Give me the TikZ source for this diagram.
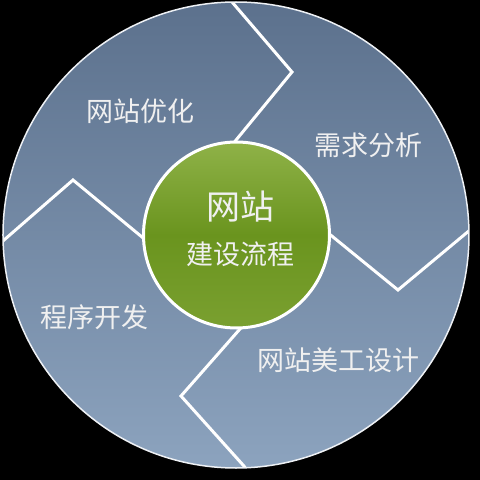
\documentclass[tikz,border=0pt]{standalone}
\usepackage{fontspec}
\newfontfamily\cjk{Noto Sans CJK SC}
\usetikzlibrary{positioning}
\definecolor{ringtop}{RGB}{92,113,141}
\definecolor{ringbot}{RGB}{140,163,190}
\definecolor{hubtop}{RGB}{143,178,72}
\definecolor{hubmid}{RGB}{106,148,30}
\definecolor{hubbot}{RGB}{122,160,48}

\begin{document}
\begin{tikzpicture}[x=1pt, y=1pt,
	steplabel/.style={text=white!94!black, font=\cjk\fontsize{27}{31}\selectfont, inner sep=0pt},
	divider/.style={draw=white, line width=3pt, line join=miter}]
	\fill[black] (-236,-245) rectangle (244,235);
	\node[circle, minimum size=466pt, inner sep=0pt, draw=white!85!ringbot, line width=1.5pt, top color=ringtop, bottom color=ringbot] (ring) at (0,0) {};
	% the four zigzag dividers
	\begin{scope}
		\clip (ring.center) circle (232pt);
		\draw[divider] (-4,90) -- (56,163) -- (-10,240);
		\draw[divider] (86,7) -- (162,-55) -- (240,10);
		\draw[divider] (11,-86) -- (-55,-161) -- (16,-240);
		\draw[divider] (-88,-7) -- (-163,55) -- (-240,-12);
	\end{scope}
	\node[circle, minimum size=186pt, inner sep=0pt, draw=white, line width=3pt, top color=hubtop, bottom color=hubbot, middle color=hubmid] (hub) at (0.5,0) {};
	\node[steplabel, font=\cjk\fontsize{34}{38}\selectfont] (hubtitle) at (5,28) {网站};
	\node[steplabel, below=19pt of hubtitle] (hubsub) {建设流程};
	\node[steplabel] (optimize) at (-95,124) {网站优化};
	\node[steplabel] (analysis) at (133,90) {需求分析};
	\node[steplabel] (design) at (103,-125) {网站美工设计};
	\node[steplabel] (develop) at (-141,-82) {程序开发};
\end{tikzpicture}
\end{document}
